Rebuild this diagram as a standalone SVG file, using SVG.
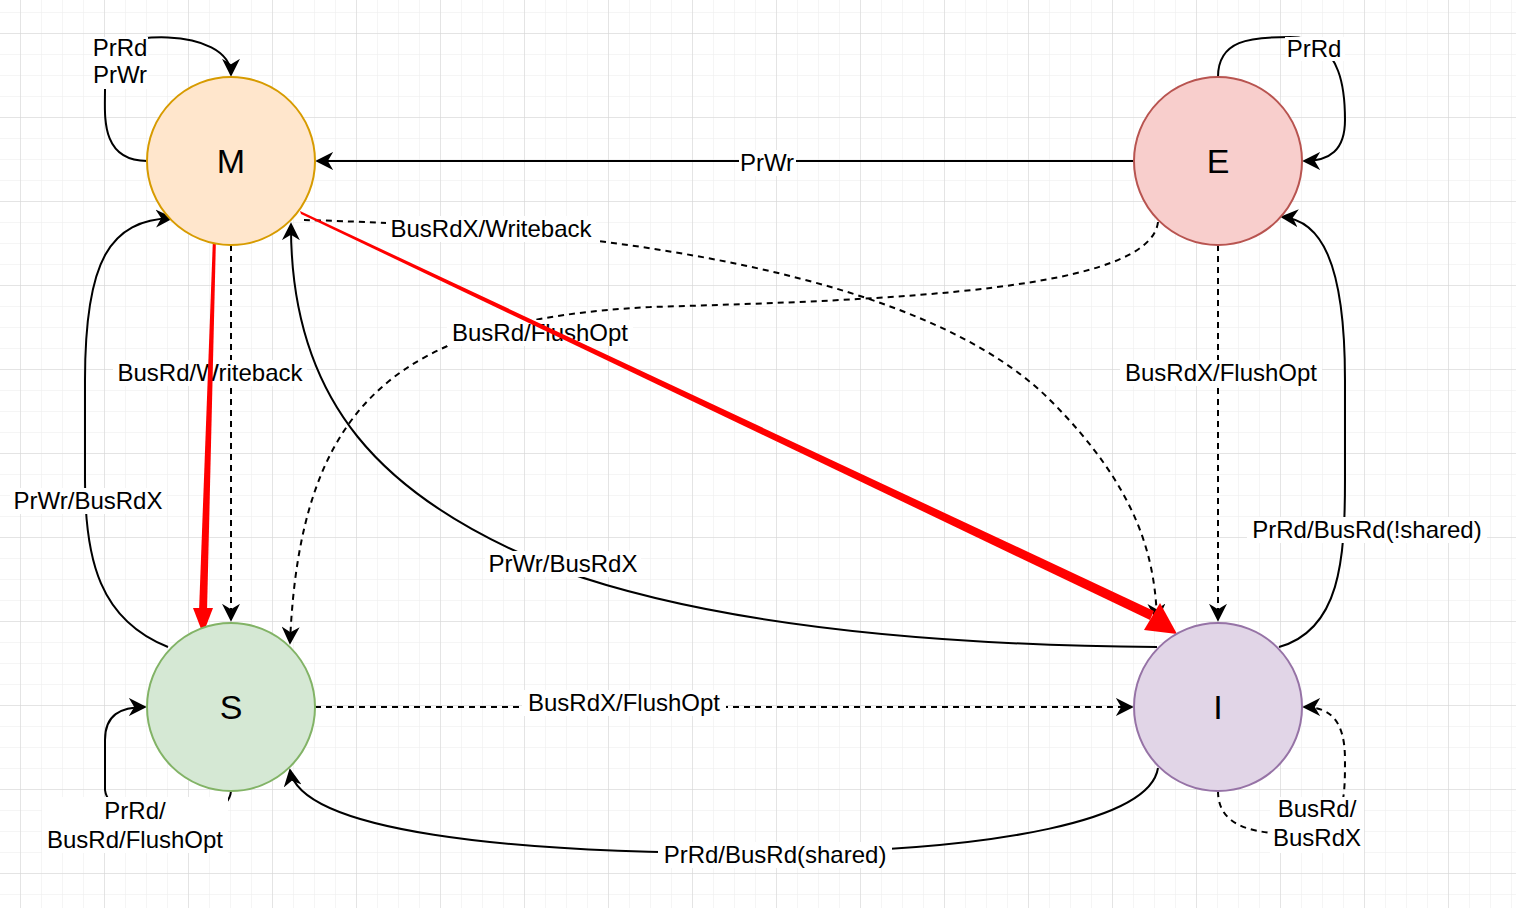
<svg xmlns="http://www.w3.org/2000/svg" width="1516" height="908" viewBox="0 0 1516 908">
<defs>
<pattern id="minor" x="20" y="33" width="21" height="21" patternUnits="userSpaceOnUse"><path d="M0 0H21M0 0V21" fill="none" stroke="#ececec" stroke-width="1"/></pattern>
<pattern id="major" x="20" y="33" width="84" height="84" patternUnits="userSpaceOnUse"><path d="M0 0H84M0 0V84" fill="none" stroke="#d4d4d4" stroke-width="1"/></pattern>
<marker id="ahb" viewBox="0 0 10 10" refX="9" refY="5" markerWidth="18" markerHeight="18" markerUnits="userSpaceOnUse" orient="auto"><path d="M0 0L10 5L0 10L3 5Z" fill="#000"/></marker>
</defs>
<style>
.e{fill:none;stroke:#000;stroke-width:2}
.d{stroke-dasharray:6 5}
.t{font-family:"Liberation Sans",Arial,sans-serif;font-size:24px;fill:#000;text-anchor:middle}
.n{font-family:"Liberation Sans",Arial,sans-serif;font-size:34px;fill:#000;text-anchor:middle}
.lb{fill:#fff}
</style>
<rect width="1516" height="908" fill="#fff"/>
<rect width="1516" height="908" fill="url(#minor)"/>
<rect width="1516" height="908" fill="url(#major)"/>
<g id="connectors">
<path class="e" d="M1134 161H317" marker-end="url(#ahb)"/>
<path class="e" d="M147 161C100 161 105 115 105 90L105 60C105 30 231 25 231 75" marker-end="url(#ahb)"/>
<path class="e" d="M1218 77C1218 40 1250 37 1290 37C1345 37 1345 100 1345 120C1345 150 1330 161 1304 161" marker-end="url(#ahb)"/>
<path class="e d" d="M231 245V620" marker-end="url(#ahb)"/>
<path class="e d" d="M304 220C500 225 900 250 1050 400C1140 490 1155 560 1157 620" marker-end="url(#ahb)"/>
<path class="e d" d="M1158 222C1150 290 900 300 650 307C400 320 300 400 290 643" marker-end="url(#ahb)"/>
<path class="e d" d="M1218 245V620" marker-end="url(#ahb)"/>
<path class="e" d="M1279 647C1340 630 1345 560 1345 480L1345 380C1345 260 1320 220 1282 217" marker-end="url(#ahb)"/>
<path class="e" d="M168 647C100 620 85 560 85 480L85 380C85 260 110 220 172 218" marker-end="url(#ahb)"/>
<path class="e" d="M1157 647C900 645 700 620 560 570C380 500 290 400 291 224" marker-end="url(#ahb)"/>
<path class="e d" d="M315 707H1132" marker-end="url(#ahb)"/>
<path class="e" d="M1158 768C1150 820 1000 850 780 853C500 855 300 830 290 770" marker-end="url(#ahb)"/>
<path class="e" d="M231 791C228 830 110 830 105 790L105 740C105 715 120 707 145 707" marker-end="url(#ahb)"/>
<path class="e d" d="M1218 791C1218 830 1260 834 1300 834C1345 834 1345 800 1345 760C1345 720 1330 707 1304 707" marker-end="url(#ahb)"/>
<rect class="lb" x="739" y="150" width="57" height="26"/><text class="t" x="767" y="171">PrWr</text>
<rect class="lb" x="92" y="37" width="56" height="52"/><text class="t" x="120" y="56">PrRd</text><text class="t" x="120" y="83">PrWr</text>
<rect class="lb" x="1285" y="37" width="60" height="24"/><text class="t" x="1314" y="57">PrRd</text>
<rect class="lb" x="386" y="216" width="210" height="26"/><text class="t" x="491" y="237">BusRdX/Writeback</text>
<rect class="lb" x="447" y="320" width="186" height="26"/><text class="t" x="540" y="341">BusRd/FlushOpt</text>
<rect class="lb" x="113" y="360" width="194" height="26"/><text class="t" x="210" y="381">BusRd/Writeback</text>
<rect class="lb" x="1120" y="360" width="202" height="26"/><text class="t" x="1221" y="381">BusRdX/FlushOpt</text>
<rect class="lb" x="10" y="488" width="156" height="26"/><text class="t" x="88" y="509">PrWr/BusRdX</text>
<rect class="lb" x="485" y="551" width="156" height="26"/><text class="t" x="563" y="572">PrWr/BusRdX</text>
<rect class="lb" x="1247" y="517" width="240" height="26"/><text class="t" x="1367" y="538">PrRd/BusRd(!shared)</text>
<rect class="lb" x="522" y="690" width="204" height="26"/><text class="t" x="624" y="711">BusRdX/FlushOpt</text>
<rect class="lb" x="658" y="842" width="234" height="26"/><text class="t" x="775" y="863">PrRd/BusRd(shared)</text>
<rect class="lb" x="42" y="797" width="186" height="56"/><text class="t" x="135" y="819">PrRd/</text><text class="t" x="135" y="848">BusRd/FlushOpt</text>
<rect class="lb" x="1270" y="797" width="94" height="56"/><text class="t" x="1317" y="817">BusRd/</text><text class="t" x="1317" y="846">BusRdX</text>
<polygon points="213,237 216,237 207,612 199,612" fill="#f00"/>
<polygon points="193,608 213,608 203,634" fill="#f00"/>
<polygon points="300,211 301,214 1150,620 1154,611" fill="#f00"/>
<polygon points="1144,630 1160,603 1177,634" fill="#f00"/>
</g>
<g id="M"><circle cx="231" cy="161" r="84" fill="#ffe6cc" stroke="#d79b00" stroke-width="2"/><text class="n" x="231" y="173">M</text></g>
<g id="E"><circle cx="1218" cy="161" r="84" fill="#f8cecc" stroke="#b85450" stroke-width="2"/><text class="n" x="1218" y="173">E</text></g>
<g id="S"><circle cx="231" cy="707" r="84" fill="#d5e8d4" stroke="#82b366" stroke-width="2"/><text class="n" x="231" y="719">S</text></g>
<g id="I"><circle cx="1218" cy="707" r="84" fill="#e1d5e7" stroke="#9673a6" stroke-width="2"/><text class="n" x="1218" y="719">I</text></g>
</svg>
